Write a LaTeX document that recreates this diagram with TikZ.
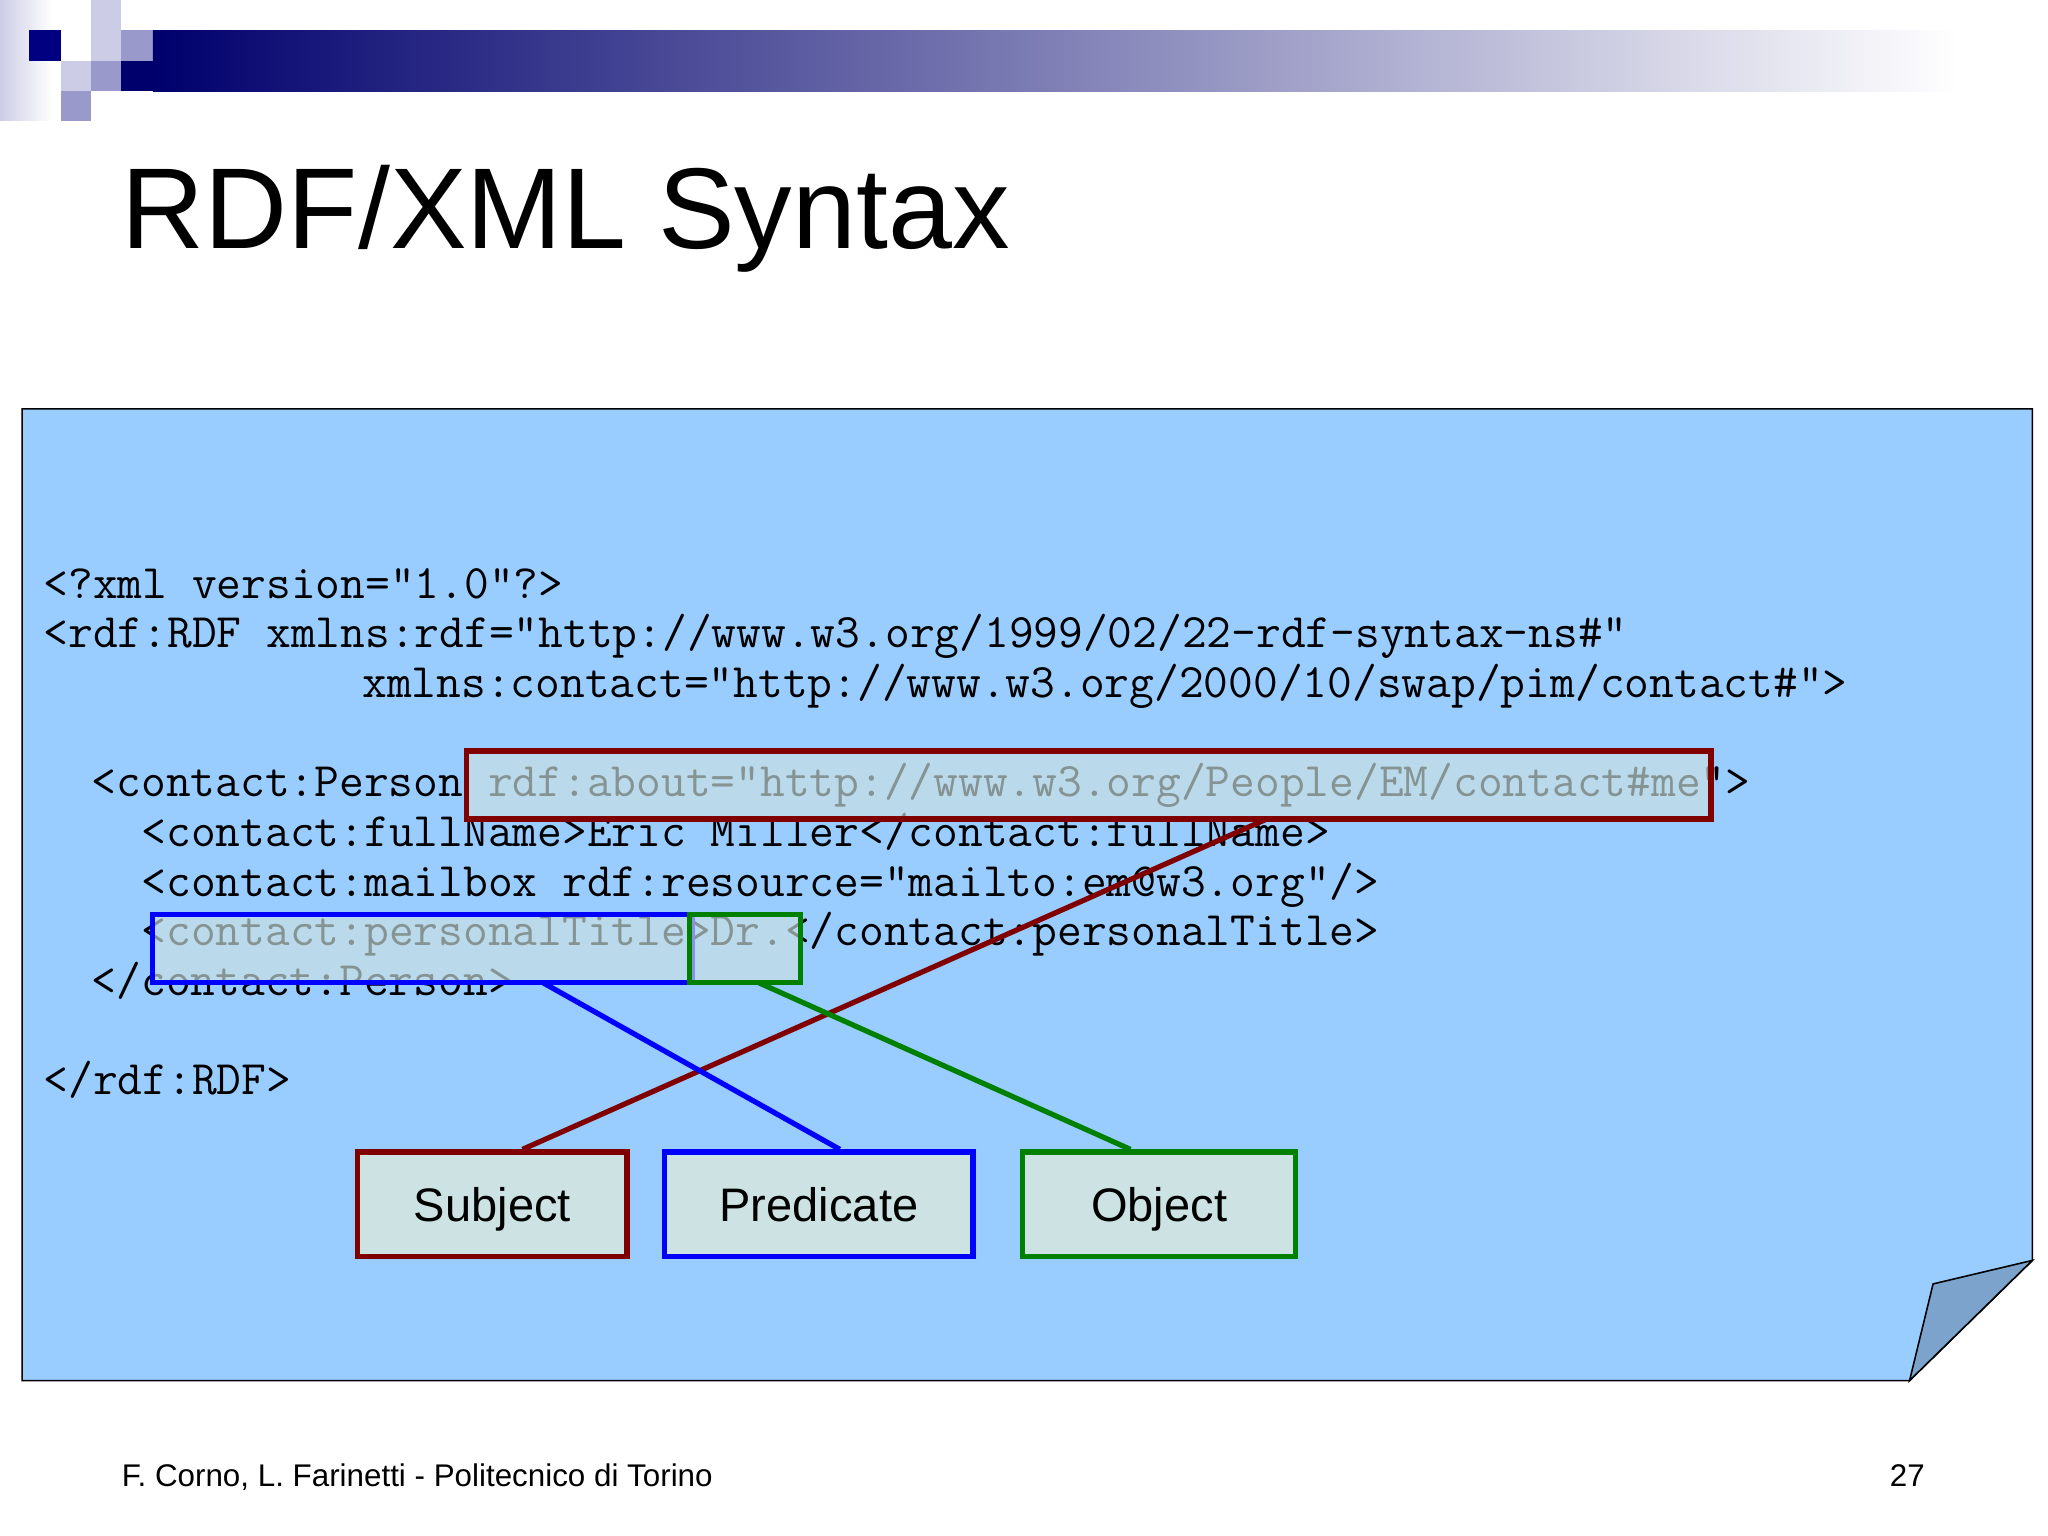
\documentclass[tikz,border=0pt]{standalone}
\usepackage{fontspec}
\setmainfont{Liberation Sans}
\begin{document}
\begin{tikzpicture}[x=0.5pt,y=-0.5pt,
  code/.style={anchor=base west,inner sep=0,font=\ttfamily\fontsize{18.4pt}{20pt}\selectfont},
  hl/.style={line width=2pt,fill=boxf,fill opacity=0.65},
  lab/.style={line width=2pt,fill=boxf,font=\fontsize{18pt}{20pt}\selectfont,text height=15pt,text depth=2pt,inner sep=0},
  conn/.style={line width=2pt}]
\definecolor{dred}{HTML}{800000}\definecolor{dgreen}{HTML}{008000}
\definecolor{lav}{HTML}{CCCCE6}\definecolor{mid}{HTML}{9999CC}\definecolor{navy}{HTML}{000080}
\definecolor{panel}{HTML}{99CCFF}\definecolor{fold}{HTML}{7BA3CC}\definecolor{boxf}{HTML}{CDE3E3}
\useasboundingbox (0,0) rectangle (1568,1176);
% header decoration
\shade[left color=lav,right color=white] (0,0) rectangle (40,92);
\fill[navy] (22,23) rectangle (47,47);
\fill[lav] (70,0) rectangle (93,23);
\fill[lav] (70,23) rectangle (93,47);
\fill[mid] (93,23) rectangle (117,47);
\fill[lav] (47,47) rectangle (70,70);
\fill[mid] (70,47) rectangle (93,70);
\fill[mid] (47,70) rectangle (70,93);
\fill[navy!85!black] (93,47) rectangle (117,70);
\shade[left color=navy!85!black,right color=white] (117,23) rectangle (1500,70);
\node[anchor=base west,inner sep=0,font=\fontsize{44pt}{50pt}\selectfont] (title) at (93,190) {RDF/XML Syntax};
% panel
\draw[fill=panel,line width=0.6pt] (17,313) -- (1556,313) -- (1556,965) -- (1462,1057) -- (17,1057) -- cycle;
\draw[fill=fold,line width=0.6pt] (1462,1057) -- (1556,965) -- (1480,983) -- cycle;
% code
\node[code] (l1) at (33,458) {<?xml version="1.0"?>};
\node[code] (l2) at (33,496) {<rdf:RDF xmlns:rdf="http://www.w3.org/1999/02/22-rdf-syntax-ns\#"};
\node[code] (l3) at (277,534) {xmlns:contact="http://www.w3.org/2000/10/swap/pim/contact\#">};
\node[code] (l4) at (70,610) {<contact:Person rdf:about="http://www.w3.org/People/EM/contact\#me">};
\node[code] (l5) at (108,648) {<contact:fullName>Eric Miller</contact:fullName>};
\node[code] (l6) at (108,686) {<contact:mailbox rdf:resource="mailto:em@w3.org"/>};
\node[code] (l7) at (108,724) {<contact:personalTitle>Dr.</contact:personalTitle>};
\node[code] (l8) at (70,762) {</contact:Person>};
\node[code] (l9) at (33,838) {</rdf:RDF>};
% highlight boxes
\draw[hl,draw=dred] (357,575) rectangle (1310,627);
\draw[hl,draw=blue] (117,700) rectangle (530,752);
\draw[hl,draw=dgreen] (528,700) rectangle (613,752);
\coordinate (rs) at (970,627);
\coordinate (bs) at (415,752);
\coordinate (gs) at (580,752);
% labels
\node[lab,draw=dred,minimum width=103pt,minimum height=40pt] (subj) at (377,922) {Subject};
\node[lab,draw=blue,minimum width=118pt,minimum height=40pt] (pred) at (627,922) {Predicate};
\node[lab,draw=dgreen,minimum width=104.5pt,minimum height=40pt] (obj) at (887.5,922) {Object};
\draw[conn,dred] (rs) -- ([xshift=11.5pt]subj.north);
\draw[conn,blue] (bs) -- ([xshift=8pt]pred.north);
\draw[conn,dgreen] (gs) -- ([xshift=-11pt]obj.north);
% footer
\node[anchor=base west,inner sep=0,font=\fontsize{12pt}{14pt}\selectfont] (foot) at (93,1138) {F. Corno, L. Farinetti - Politecnico di Torino};
\node[anchor=base east,inner sep=0,font=\fontsize{12pt}{14pt}\selectfont] (page) at (1474,1138) {27};
\end{tikzpicture}
\end{document}
